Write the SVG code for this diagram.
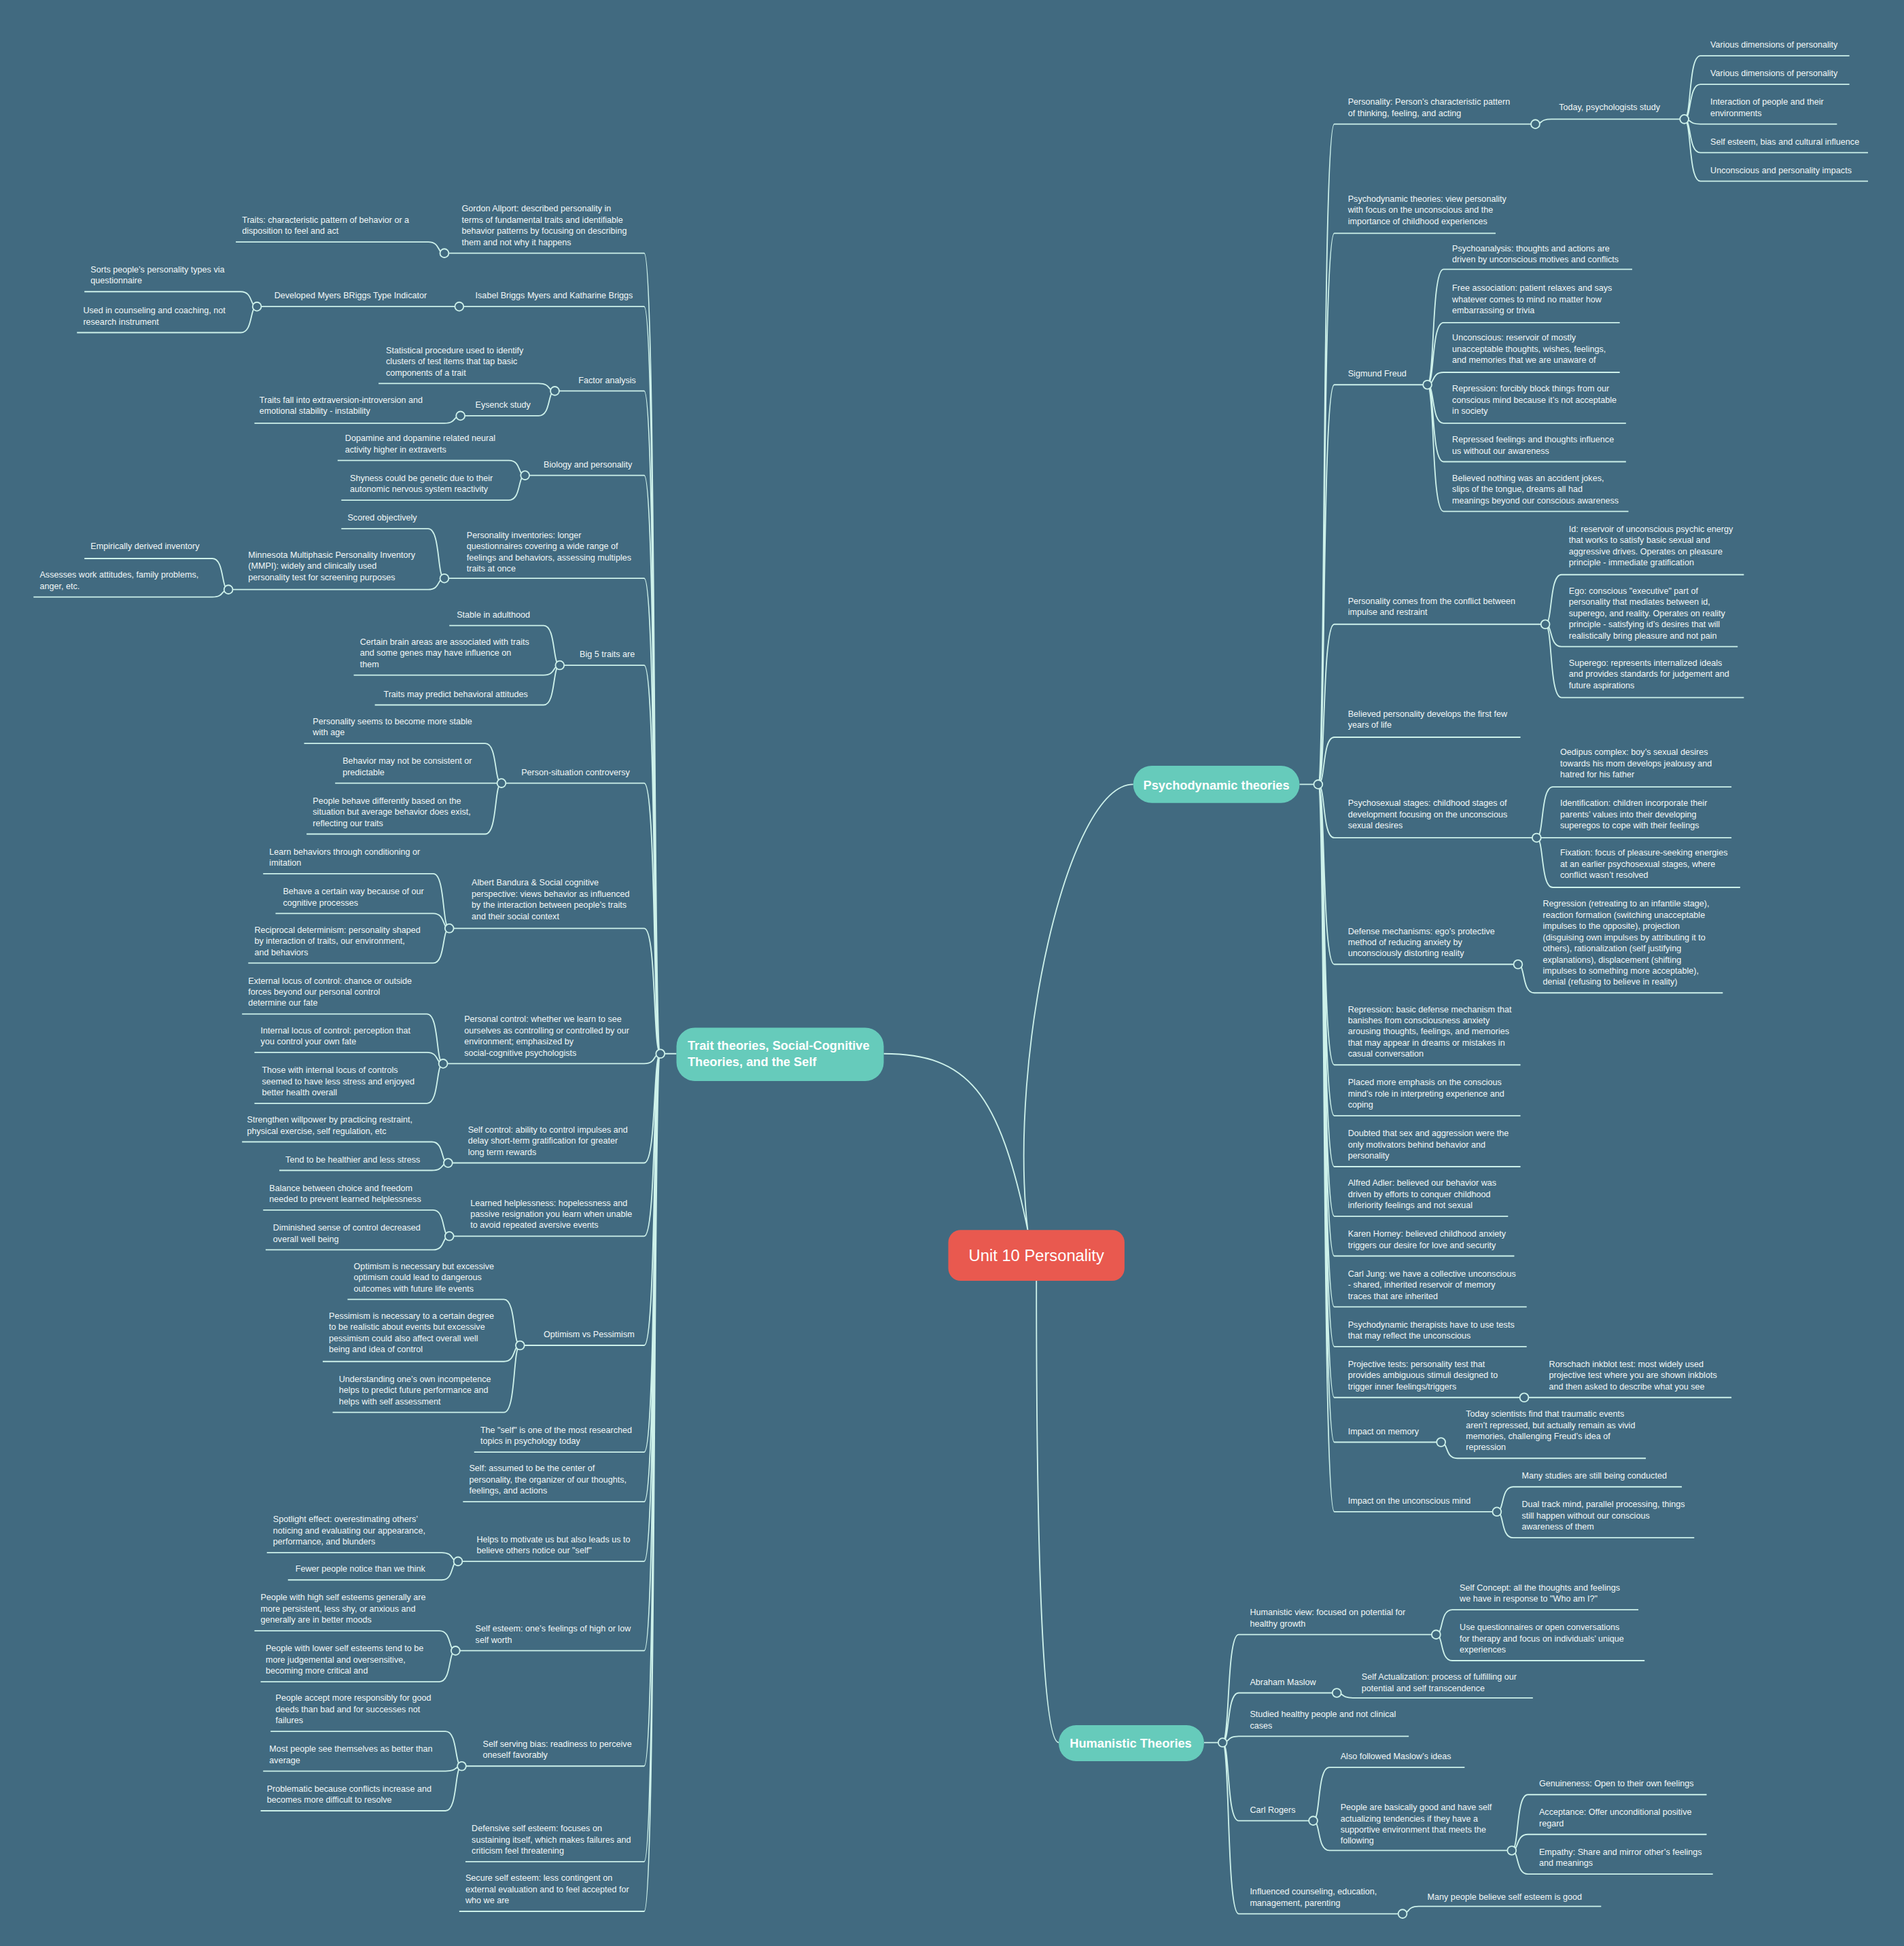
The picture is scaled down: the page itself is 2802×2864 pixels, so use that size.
<svg xmlns="http://www.w3.org/2000/svg" width="2802" height="2864" viewBox="0 0 2802 2864">
<style>
.l{fill:none;stroke:#cdf1ea;stroke-width:1}
.c{fill:#416a80;stroke:#cdf1ea;stroke-width:1}
text{font-family:"Liberation Sans",Arial,sans-serif;font-size:6.9px;fill:#f2f7f7}
.m{font-size:10px;font-weight:bold;fill:#fff}
</style>
<rect width="2802" height="2864" fill="#416a80"/>
<g transform="scale(1.82660)">
<g id="connectors">
<path class="l" d="M828 991C812 850 860 632 913 632M1047 632H1058.5M828 991C805 880 780 849 712 849M545 849H535.5M835 1032C835 1250 840 1404 853 1404M970 1404H981.5"/>
<path class="l" d="M1062 632C1068 632 1065 100 1075 100H1233.5M1237 100C1243 100 1240 96 1250 96H1353.5
M1357 96C1363 96 1360 45 1370 45H1490M1357 96C1363 96 1360 68 1370 68H1490M1357 96C1363 96 1360 100 1370 100H1480M1357 96C1363 96 1360 123 1370 123H1505M1357 96C1363 96 1360 146 1370 146H1505
M1062 632C1068 632 1065 188 1075 188H1205
M1062 632C1068 632 1065 310 1075 310H1146.5
M1150 310C1156 310 1153 217 1163 217H1315M1150 310C1156 310 1153 260 1163 260H1305M1150 310C1156 310 1153 300 1163 300H1305M1150 310C1156 310 1153 341 1163 341H1310M1150 310C1156 310 1153 372 1163 372H1310M1150 310C1156 310 1153 412 1163 412H1312
M1062 632C1068 632 1065 503 1075 503H1241.5
M1245 503C1251 503 1248 463 1258 463H1405M1245 503C1251 503 1248 521 1258 521H1400M1245 503C1251 503 1248 562 1258 562H1405
M1062 632C1068 632 1065 594 1075 594H1225
M1062 632C1068 632 1065 675 1075 675H1234.5
M1238 675C1244 675 1241 634 1251 634H1395M1238 675C1244 675 1241 675 1251 675H1395M1238 675C1244 675 1241 715 1251 715H1402
M1062 632C1068 632 1065 777 1075 777H1219.5M1223 777C1229 777 1226 800 1236 800H1388
M1062 632C1068 632 1065 858 1075 858H1225M1062 632C1068 632 1065 899 1075 899H1225M1062 632C1068 632 1065 940 1075 940H1225M1062 632C1068 632 1065 980 1075 980H1215M1062 632C1068 632 1065 1012 1075 1012H1220M1062 632C1068 632 1065 1053 1075 1053H1230M1062 632C1068 632 1065 1085 1075 1085H1230
M1062 632C1068 632 1065 1126 1075 1126H1224.5M1228 1126C1234 1126 1231 1126 1241 1126H1395
M1062 632C1068 632 1065 1162 1075 1162H1157.5M1161 1162C1167 1162 1164 1175 1174 1175H1326
M1062 632C1068 632 1065 1218 1075 1218H1202.5M1206 1218C1212 1218 1209 1198 1219 1198H1355M1206 1218C1212 1218 1209 1239 1219 1239H1365"/>
<path class="l" d="M985 1404C991 1404 988 1317 998 1317H1153.5M1157 1317C1163 1317 1160 1297 1170 1297H1320M1157 1317C1163 1317 1160 1338 1170 1338H1325
M985 1404C991 1404 988 1364 998 1364H1073.5M1077 1364C1083 1364 1080 1368 1090 1368H1235
M985 1404C991 1404 988 1399 998 1399H1135
M985 1404C991 1404 988 1467 998 1467H1054.5M1058 1467C1064 1467 1061 1424 1071 1424H1180M1058 1467C1064 1467 1061 1491 1071 1491H1214.5
M1218 1491C1224 1491 1221 1446 1231 1446H1375M1218 1491C1224 1491 1221 1478 1231 1478H1375M1218 1491C1224 1491 1221 1510 1231 1510H1380
M985 1404C991 1404 988 1542 998 1542H1126.5M1130 1542C1136 1542 1133 1536 1143 1536H1290"/>
<path class="l" d="M532 849C526 849 529 204 519 204H361.5M358 204C352 204 355 195 345 195H190
M532 849C526 849 529 247 519 247H373.5M370 247C364 247 367 247 357 247H210.5M207 247C201 247 204 235 194 235H68M207 247C201 247 204 268 194 268H62
M532 849C526 849 529 315 519 315H450.5M447 315C441 315 444 309 434 309H305M447 315C441 315 444 335 434 335H374.5M371 335C365 335 368 341 358 341H205
M532 849C526 849 529 383 519 383H426.5M423 383C417 383 420 371 410 371H272M423 383C417 383 420 403 410 403H275
M532 849C526 849 529 466 519 466H361.5M358 466C352 466 355 426 345 426H275M358 466C352 466 355 475 345 475H187.5M184 475C178 475 181 450 171 450H68M184 475C178 475 181 481 171 481H27
M532 849C526 849 529 536 519 536H454.5M451 536C445 536 448 504 438 504H362M451 536C445 536 448 544 438 544H285M451 536C445 536 448 568 438 568H302
M532 849C526 849 529 631 519 631H407.5M404 631C398 631 401 599 391 599H245M404 631C398 631 401 631 391 631H270M404 631C398 631 401 672 391 672H247
M532 849C526 849 529 748 519 748H365.5M362 748C356 748 359 704 349 704H212M362 748C356 748 359 736 349 736H222M362 748C356 748 359 776 349 776H200
M532 849C526 849 529 857 519 857H360.5M357 857C351 857 354 817 344 817H195M357 857C351 857 354 848 344 848H205M357 857C351 857 354 889 344 889H205
M532 849C526 849 529 937 519 937H364.5M361 937C355 937 358 920 348 920H195M361 937C355 937 358 943 348 943H225
M532 849C526 849 529 996 519 996H365.5M362 996C356 996 359 975 349 975H212M362 996C356 996 359 1007 349 1007H214
M532 849C526 849 529 1084 519 1084H422.5M419 1084C413 1084 416 1047 406 1047H280M419 1084C413 1084 416 1097 406 1097H260M419 1084C413 1084 416 1138 406 1138H268
M532 849C526 849 529 1170 519 1170H382M532 849C526 849 529 1210 519 1210H373
M532 849C526 849 529 1258 519 1258H372.5M369 1258C363 1258 366 1251 356 1251H215M369 1258C363 1258 366 1273 356 1273H232
M532 849C526 849 529 1330 519 1330H370.5M367 1330C361 1330 364 1314 354 1314H205M367 1330C361 1330 364 1355 354 1355H210
M532 849C526 849 529 1423 519 1423H375.5M372 1423C366 1423 369 1395 359 1395H218M372 1423C366 1423 369 1427 359 1427H212M372 1423C366 1423 369 1459 359 1459H210
M532 849C526 849 529 1500 519 1500H375M532 849C526 849 529 1540 519 1540H370"/>
</g>
<g id="center"><rect x="764" y="991" width="142" height="41" rx="10" fill="#e9594f"/><text x="835" y="1016" text-anchor="middle" style="font-size:13px;fill:#fff">Unit 10 Personality</text></g>
<g id="psychodynamic"><rect x="913" y="617" width="134" height="30" rx="15" fill="#66cbbb"/><text class="m" x="980" y="636" text-anchor="middle">Psychodynamic theories</text><circle class="c" cx="1062" cy="632" r="3.5"/></g>
<g id="trait"><rect x="545" y="828" width="167" height="43" rx="15" fill="#66cbbb"/><text class="m" x="554" y="846">Trait theories, Social-Cognitive<tspan x="554" dy="13">Theories, and the Self</tspan></text><circle class="c" cx="532" cy="849" r="3.5"/></g>
<g id="humanistic"><rect x="853" y="1390" width="117" height="29" rx="14" fill="#66cbbb"/><text class="m" x="911" y="1408" text-anchor="middle">Humanistic Theories</text><circle class="c" cx="985" cy="1404" r="3.5"/></g>

<g id="p-nodes">
<g id="p1"><text x="1086" y="84.5">Personality: Person’s characteristic pattern<tspan x="1086" dy="9">of thinking, feeling, and acting</tspan></text><circle class="c" cx="1237" cy="100" r="3.5"/></g>
<g id="p1a"><text x="1256" y="88.5">Today, psychologists study</text><circle class="c" cx="1357" cy="96" r="3.5"/></g>
<g id="p1a1"><text x="1378" y="38.5">Various dimensions of personality</text></g>
<g id="p1a2"><text x="1378" y="61.5">Various dimensions of personality</text></g>
<g id="p1a3"><text x="1378" y="84.5">Interaction of people and their<tspan x="1378" dy="9">environments</tspan></text></g>
<g id="p1a4"><text x="1378" y="116.5">Self esteem, bias and cultural influence</text></g>
<g id="p1a5"><text x="1378" y="139.5">Unconscious and personality impacts</text></g>
<g id="p2"><text x="1086" y="162.5">Psychodynamic theories: view personality<tspan x="1086" dy="9">with focus on the unconscious and the</tspan><tspan x="1086" dy="9">importance of childhood experiences</tspan></text></g>
<g id="p3"><text x="1086" y="303.5">Sigmund Freud</text><circle class="c" cx="1150" cy="310" r="3.5"/></g>
<g id="p3a"><text x="1170" y="202.5">Psychoanalysis: thoughts and actions are<tspan x="1170" dy="9">driven by unconscious motives and conflicts</tspan></text></g>
<g id="p3b"><text x="1170" y="234.5">Free association: patient relaxes and says<tspan x="1170" dy="9">whatever comes to mind no matter how</tspan><tspan x="1170" dy="9">embarrassing or trivia</tspan></text></g>
<g id="p3c"><text x="1170" y="274.5">Unconscious: reservoir of mostly<tspan x="1170" dy="9">unacceptable thoughts, wishes, feelings,</tspan><tspan x="1170" dy="9">and memories that we are unaware of</tspan></text></g>
<g id="p3d"><text x="1170" y="315.5">Repression: forcibly block things from our<tspan x="1170" dy="9">conscious mind because it’s not acceptable</tspan><tspan x="1170" dy="9">in society</tspan></text></g>
<g id="p3e"><text x="1170" y="356.5">Repressed feelings and thoughts influence<tspan x="1170" dy="9">us without our awareness</tspan></text></g>
<g id="p3f"><text x="1170" y="387.5">Believed nothing was an accident jokes,<tspan x="1170" dy="9">slips of the tongue, dreams all had</tspan><tspan x="1170" dy="9">meanings beyond our conscious awareness</tspan></text></g>
<g id="p4"><text x="1086" y="486.5">Personality comes from the conflict between<tspan x="1086" dy="9">impulse and restraint</tspan></text><circle class="c" cx="1245" cy="503" r="3.5"/></g>
<g id="p4a"><text x="1264" y="428.5">Id: reservoir of unconscious psychic energy<tspan x="1264" dy="9">that works to satisfy basic sexual and</tspan><tspan x="1264" dy="9">aggressive drives. Operates on pleasure</tspan><tspan x="1264" dy="9">principle - immediate gratification</tspan></text></g>
<g id="p4b"><text x="1264" y="478.5">Ego: conscious "executive" part of<tspan x="1264" dy="9">personality that mediates between id,</tspan><tspan x="1264" dy="9">superego, and reality. Operates on reality</tspan><tspan x="1264" dy="9">principle - satisfying id’s desires that will</tspan><tspan x="1264" dy="9">realistically bring pleasure and not pain</tspan></text></g>
<g id="p4c"><text x="1264" y="536.5">Superego: represents internalized ideals<tspan x="1264" dy="9">and provides standards for judgement and</tspan><tspan x="1264" dy="9">future aspirations</tspan></text></g>
<g id="p5"><text x="1086" y="577.5">Believed personality develops the first few<tspan x="1086" dy="9">years of life</tspan></text></g>
<g id="p6"><text x="1086" y="649.5">Psychosexual stages: childhood stages of<tspan x="1086" dy="9">development focusing on the unconscious</tspan><tspan x="1086" dy="9">sexual desires</tspan></text><circle class="c" cx="1238" cy="675" r="3.5"/></g>
<g id="p6a"><text x="1257" y="608.5">Oedipus complex: boy’s sexual desires<tspan x="1257" dy="9">towards his mom develops jealousy and</tspan><tspan x="1257" dy="9">hatred for his father</tspan></text></g>
<g id="p6b"><text x="1257" y="649.5">Identification: children incorporate their<tspan x="1257" dy="9">parents’ values into their developing</tspan><tspan x="1257" dy="9">superegos to cope with their feelings</tspan></text></g>
<g id="p6c"><text x="1257" y="689.5">Fixation: focus of pleasure-seeking energies<tspan x="1257" dy="9">at an earlier psychosexual stages, where</tspan><tspan x="1257" dy="9">conflict wasn’t resolved</tspan></text></g>
<g id="p7"><text x="1086" y="752.5">Defense mechanisms: ego’s protective<tspan x="1086" dy="9">method of reducing anxiety by</tspan><tspan x="1086" dy="9">unconsciously distorting reality</tspan></text><circle class="c" cx="1223" cy="777" r="3.5"/></g>
<g id="p7a"><text x="1243" y="730.5">Regression (retreating to an infantile stage),<tspan x="1243" dy="9">reaction formation (switching unacceptable</tspan><tspan x="1243" dy="9">impulses to the opposite), projection</tspan><tspan x="1243" dy="9">(disguising own impulses by attributing it to</tspan><tspan x="1243" dy="9">others), rationalization (self justifying</tspan><tspan x="1243" dy="9">explanations), displacement (shifting</tspan><tspan x="1243" dy="9">impulses to something more acceptable),</tspan><tspan x="1243" dy="9">denial (refusing to believe in reality)</tspan></text></g>
<g id="p8"><text x="1086" y="815.5">Repression: basic defense mechanism that<tspan x="1086" dy="9">banishes from consciousness anxiety</tspan><tspan x="1086" dy="9">arousing thoughts, feelings, and memories</tspan><tspan x="1086" dy="9">that may appear in dreams or mistakes in</tspan><tspan x="1086" dy="9">casual conversation</tspan></text></g>
<g id="p9"><text x="1086" y="874.5">Placed more emphasis on the conscious<tspan x="1086" dy="9">mind’s role in interpreting experience and</tspan><tspan x="1086" dy="9">coping</tspan></text></g>
<g id="p10"><text x="1086" y="915.5">Doubted that sex and aggression were the<tspan x="1086" dy="9">only motivators behind behavior and</tspan><tspan x="1086" dy="9">personality</tspan></text></g>
<g id="p11"><text x="1086" y="955.5">Alfred Adler: believed our behavior was<tspan x="1086" dy="9">driven by efforts to conquer childhood</tspan><tspan x="1086" dy="9">inferiority feelings and not sexual</tspan></text></g>
<g id="p12"><text x="1086" y="996.5">Karen Horney: believed childhood anxiety<tspan x="1086" dy="9">triggers our desire for love and security</tspan></text></g>
<g id="p13"><text x="1086" y="1028.5">Carl Jung: we have a collective unconscious<tspan x="1086" dy="9">- shared, inherited reservoir of memory</tspan><tspan x="1086" dy="9">traces that are inherited</tspan></text></g>
<g id="p14"><text x="1086" y="1069.5">Psychodynamic therapists have to use tests<tspan x="1086" dy="9">that may reflect the unconscious</tspan></text></g>
<g id="p15"><text x="1086" y="1101.5">Projective tests: personality test that<tspan x="1086" dy="9">provides ambiguous stimuli designed to</tspan><tspan x="1086" dy="9">trigger inner feelings/triggers</tspan></text><circle class="c" cx="1228" cy="1126" r="3.5"/></g>
<g id="p15a"><text x="1248" y="1101.5">Rorschach inkblot test: most widely used<tspan x="1248" dy="9">projective test where you are shown inkblots</tspan><tspan x="1248" dy="9">and then asked to describe what you see</tspan></text></g>
<g id="p16"><text x="1086" y="1155.5">Impact on memory</text><circle class="c" cx="1161" cy="1162" r="3.5"/></g>
<g id="p16a"><text x="1181" y="1141.5">Today scientists find that traumatic events<tspan x="1181" dy="9">aren’t repressed, but actually remain as vivid</tspan><tspan x="1181" dy="9">memories, challenging Freud’s idea of</tspan><tspan x="1181" dy="9">repression</tspan></text></g>
<g id="p17"><text x="1086" y="1211.5">Impact on the unconscious mind</text><circle class="c" cx="1206" cy="1218" r="3.5"/></g>
<g id="p17a"><text x="1226" y="1191.5">Many studies are still being conducted</text></g>
<g id="p17b"><text x="1226" y="1214.5">Dual track mind, parallel processing, things<tspan x="1226" dy="9">still happen without our conscious</tspan><tspan x="1226" dy="9">awareness of them</tspan></text></g>
</g>

<g id="h-nodes">
<g id="h1"><text x="1007" y="1301.5">Humanistic view: focused on potential for<tspan x="1007" dy="9">healthy growth</tspan></text><circle class="c" cx="1157" cy="1317" r="3.5"/></g>
<g id="h1a"><text x="1176" y="1281.5">Self Concept: all the thoughts and feelings<tspan x="1176" dy="9">we have in response to "Who am I?"</tspan></text></g>
<g id="h1b"><text x="1176" y="1313.5">Use questionnaires or open conversations<tspan x="1176" dy="9">for therapy and focus on individuals’ unique</tspan><tspan x="1176" dy="9">experiences</tspan></text></g>
<g id="h2"><text x="1007" y="1357.5">Abraham Maslow</text><circle class="c" cx="1077" cy="1364" r="3.5"/></g>
<g id="h2a"><text x="1097" y="1353.5">Self Actualization: process of fulfilling our<tspan x="1097" dy="9">potential and self transcendence</tspan></text></g>
<g id="h3"><text x="1007" y="1383.5">Studied healthy people and not clinical<tspan x="1007" dy="9">cases</tspan></text></g>
<g id="h4"><text x="1007" y="1460.5">Carl Rogers</text><circle class="c" cx="1058" cy="1467" r="3.5"/></g>
<g id="h4a"><text x="1080" y="1417.5">Also followed Maslow’s ideas</text></g>
<g id="h4b"><text x="1080" y="1458.5">People are basically good and have self<tspan x="1080" dy="9">actualizing tendencies if they have a</tspan><tspan x="1080" dy="9">supportive environment that meets the</tspan><tspan x="1080" dy="9">following</tspan></text><circle class="c" cx="1218" cy="1491" r="3.5"/></g>
<g id="h4b1"><text x="1240" y="1439.5">Genuineness: Open to their own feelings</text></g>
<g id="h4b2"><text x="1240" y="1462.5">Acceptance: Offer unconditional positive<tspan x="1240" dy="9">regard</tspan></text></g>
<g id="h4b3"><text x="1240" y="1494.5">Empathy: Share and mirror other’s feelings<tspan x="1240" dy="9">and meanings</tspan></text></g>
<g id="h5"><text x="1007" y="1526.5">Influenced counseling, education,<tspan x="1007" dy="9">management, parenting</tspan></text><circle class="c" cx="1130" cy="1542" r="3.5"/></g>
<g id="h5a"><text x="1150" y="1530.5">Many people believe self esteem is good</text></g>
</g>

<g id="t-nodes">
<g id="t1"><text x="372" y="170.5">Gordon Allport: described personality in<tspan x="372" dy="9">terms of fundamental traits and identifiable</tspan><tspan x="372" dy="9">behavior patterns by focusing on describing</tspan><tspan x="372" dy="9">them and not why it happens</tspan></text><circle class="c" cx="358" cy="204" r="3.5"/></g>
<g id="t1a"><text x="195" y="179.5">Traits: characteristic pattern of behavior or a<tspan x="195" dy="9">disposition to feel and act</tspan></text></g>
<g id="t2"><text x="383" y="240.5">Isabel Briggs Myers and Katharine Briggs</text><circle class="c" cx="370" cy="247" r="3.5"/></g>
<g id="t2a"><text x="221" y="240.5">Developed Myers BRiggs Type Indicator</text><circle class="c" cx="207" cy="247" r="3.5"/></g>
<g id="t2a1"><text x="73" y="219.5">Sorts people’s personality types via<tspan x="73" dy="9">questionnaire</tspan></text></g>
<g id="t2a2"><text x="67" y="252.5">Used in counseling and coaching, not<tspan x="67" dy="9">research instrument</tspan></text></g>
<g id="t3"><text x="466" y="308.5">Factor analysis</text><circle class="c" cx="447" cy="315" r="3.5"/></g>
<g id="t3a"><text x="311" y="284.5">Statistical procedure used to identify<tspan x="311" dy="9">clusters of test items that tap basic</tspan><tspan x="311" dy="9">components of a trait</tspan></text></g>
<g id="t3b"><text x="383" y="328.5">Eysenck study</text><circle class="c" cx="371" cy="335" r="3.5"/></g>
<g id="t3b1"><text x="209" y="324.5">Traits fall into extraversion-introversion and<tspan x="209" dy="9">emotional stability - instability</tspan></text></g>
<g id="t4"><text x="438" y="376.5">Biology and personality</text><circle class="c" cx="423" cy="383" r="3.5"/></g>
<g id="t4a"><text x="278" y="355.5">Dopamine and dopamine related neural<tspan x="278" dy="9">activity higher in extraverts</tspan></text></g>
<g id="t4b"><text x="282" y="387.5">Shyness could be genetic due to their<tspan x="282" dy="9">autonomic nervous system reactivity</tspan></text></g>
<g id="t5"><text x="376" y="433.5">Personality inventories: longer<tspan x="376" dy="9">questionnaires covering a wide range of</tspan><tspan x="376" dy="9">feelings and behaviors, assessing multiples</tspan><tspan x="376" dy="9">traits at once</tspan></text><circle class="c" cx="358" cy="466" r="3.5"/></g>
<g id="t5a"><text x="280" y="419.5">Scored objectively</text></g>
<g id="t5b"><text x="200" y="449.5">Minnesota Multiphasic Personality Inventory<tspan x="200" dy="9">(MMPI): widely and clinically used</tspan><tspan x="200" dy="9">personality test for screening purposes</tspan></text><circle class="c" cx="184" cy="475" r="3.5"/></g>
<g id="t5b1"><text x="73" y="442.5">Empirically derived inventory</text></g>
<g id="t5b2"><text x="32" y="465.5">Assesses work attitudes, family problems,<tspan x="32" dy="9">anger, etc.</tspan></text></g>
<g id="t6"><text x="467" y="529.5">Big 5 traits are</text><circle class="c" cx="451" cy="536" r="3.5"/></g>
<g id="t6a"><text x="368" y="497.5">Stable in adulthood</text></g>
<g id="t6b"><text x="290" y="519.5">Certain brain areas are associated with traits<tspan x="290" dy="9">and some genes may have influence on</tspan><tspan x="290" dy="9">them</tspan></text></g>
<g id="t6c"><text x="309" y="561.5">Traits may predict behavioral attitudes</text></g>
<g id="t7"><text x="420" y="624.5">Person-situation controversy</text><circle class="c" cx="404" cy="631" r="3.5"/></g>
<g id="t7a"><text x="252" y="583.5">Personality seems to become more stable<tspan x="252" dy="9">with age</tspan></text></g>
<g id="t7b"><text x="276" y="615.5">Behavior may not be consistent or<tspan x="276" dy="9">predictable</tspan></text></g>
<g id="t7c"><text x="252" y="647.5">People behave differently based on the<tspan x="252" dy="9">situation but average behavior does exist,</tspan><tspan x="252" dy="9">reflecting our traits</tspan></text></g>
<g id="t8"><text x="380" y="713.5">Albert Bandura &amp; Social cognitive<tspan x="380" dy="9">perspective: views behavior as influenced</tspan><tspan x="380" dy="9">by the interaction between people’s traits</tspan><tspan x="380" dy="9">and their social context</tspan></text><circle class="c" cx="362" cy="748" r="3.5"/></g>
<g id="t8a"><text x="217" y="688.5">Learn behaviors through conditioning or<tspan x="217" dy="9">imitation</tspan></text></g>
<g id="t8b"><text x="228" y="720.5">Behave a certain way because of our<tspan x="228" dy="9">cognitive processes</tspan></text></g>
<g id="t8c"><text x="205" y="751.5">Reciprocal determinism: personality shaped<tspan x="205" dy="9">by interaction of traits, our environment,</tspan><tspan x="205" dy="9">and behaviors</tspan></text></g>
<g id="t9"><text x="374" y="823.5">Personal control: whether we learn to see<tspan x="374" dy="9">ourselves as controlling or controlled by our</tspan><tspan x="374" dy="9">environment; emphasized by</tspan><tspan x="374" dy="9">social-cognitive psychologists</tspan></text><circle class="c" cx="357" cy="857" r="3.5"/></g>
<g id="t9a"><text x="200" y="792.5">External locus of control: chance or outside<tspan x="200" dy="9">forces beyond our personal control</tspan><tspan x="200" dy="9">determine our fate</tspan></text></g>
<g id="t9b"><text x="210" y="832.5">Internal locus of control: perception that<tspan x="210" dy="9">you control your own fate</tspan></text></g>
<g id="t9c"><text x="211" y="864.5">Those with internal locus of controls<tspan x="211" dy="9">seemed to have less stress and enjoyed</tspan><tspan x="211" dy="9">better health overall</tspan></text></g>
<g id="t10"><text x="377" y="912.5">Self control: ability to control impulses and<tspan x="377" dy="9">delay short-term gratification for greater</tspan><tspan x="377" dy="9">long term rewards</tspan></text><circle class="c" cx="361" cy="937" r="3.5"/></g>
<g id="t10a"><text x="199" y="904.5">Strengthen willpower by practicing restraint,<tspan x="199" dy="9">physical exercise, self regulation, etc</tspan></text></g>
<g id="t10b"><text x="230" y="936.5">Tend to be healthier and less stress</text></g>
<g id="t11"><text x="379" y="971.5">Learned helplessness: hopelessness and<tspan x="379" dy="9">passive resignation you learn when unable</tspan><tspan x="379" dy="9">to avoid repeated aversive events</tspan></text><circle class="c" cx="362" cy="996" r="3.5"/></g>
<g id="t11a"><text x="217" y="959.5">Balance between choice and freedom<tspan x="217" dy="9">needed to prevent learned helplessness</tspan></text></g>
<g id="t11b"><text x="220" y="991.5">Diminished sense of control decreased<tspan x="220" dy="9">overall well being</tspan></text></g>
<g id="t12"><text x="438" y="1077.5">Optimism vs Pessimism</text><circle class="c" cx="419" cy="1084" r="3.5"/></g>
<g id="t12a"><text x="285" y="1022.5">Optimism is necessary but excessive<tspan x="285" dy="9">optimism could lead to dangerous</tspan><tspan x="285" dy="9">outcomes with future life events</tspan></text></g>
<g id="t12b"><text x="265" y="1062.5">Pessimism is necessary to a certain degree<tspan x="265" dy="9">to be realistic about events but excessive</tspan><tspan x="265" dy="9">pessimism could also affect overall well</tspan><tspan x="265" dy="9">being and idea of control</tspan></text></g>
<g id="t12c"><text x="273" y="1113.5">Understanding one’s own incompetence<tspan x="273" dy="9">helps to predict future performance and</tspan><tspan x="273" dy="9">helps with self assessment</tspan></text></g>
<g id="t13"><text x="387" y="1154.5">The "self" is one of the most researched<tspan x="387" dy="9">topics in psychology today</tspan></text></g>
<g id="t14"><text x="378" y="1185.5">Self: assumed to be the center of<tspan x="378" dy="9">personality, the organizer of our thoughts,</tspan><tspan x="378" dy="9">feelings, and actions</tspan></text></g>
<g id="t15"><text x="384" y="1242.5">Helps to motivate us but also leads us to<tspan x="384" dy="9">believe others notice our "self"</tspan></text><circle class="c" cx="369" cy="1258" r="3.5"/></g>
<g id="t15a"><text x="220" y="1226.5">Spotlight effect: overestimating others’<tspan x="220" dy="9">noticing and evaluating our appearance,</tspan><tspan x="220" dy="9">performance, and blunders</tspan></text></g>
<g id="t15b"><text x="238" y="1266.5">Fewer people notice than we think</text></g>
<g id="t16"><text x="383" y="1314.5">Self esteem: one’s feelings of high or low<tspan x="383" dy="9">self worth</tspan></text><circle class="c" cx="367" cy="1330" r="3.5"/></g>
<g id="t16a"><text x="210" y="1289.5">People with high self esteems generally are<tspan x="210" dy="9">more persistent, less shy, or anxious and</tspan><tspan x="210" dy="9">generally are in better moods</tspan></text></g>
<g id="t16b"><text x="214" y="1330.5">People with lower self esteems tend to be<tspan x="214" dy="9">more judgemental and oversensitive,</tspan><tspan x="214" dy="9">becoming more critical and</tspan></text></g>
<g id="t17"><text x="389" y="1407.5">Self serving bias: readiness to perceive<tspan x="389" dy="9">oneself favorably</tspan></text><circle class="c" cx="372" cy="1423" r="3.5"/></g>
<g id="t17a"><text x="222" y="1370.5">People accept more responsibly for good<tspan x="222" dy="9">deeds than bad and for successes not</tspan><tspan x="222" dy="9">failures</tspan></text></g>
<g id="t17b"><text x="217" y="1411.5">Most people see themselves as better than<tspan x="217" dy="9">average</tspan></text></g>
<g id="t17c"><text x="215" y="1443.5">Problematic because conflicts increase and<tspan x="215" dy="9">becomes more difficult to resolve</tspan></text></g>
<g id="t18"><text x="380" y="1475.5">Defensive self esteem: focuses on<tspan x="380" dy="9">sustaining itself, which makes failures and</tspan><tspan x="380" dy="9">criticism feel threatening</tspan></text></g>
<g id="t19"><text x="375" y="1515.5">Secure self esteem: less contingent on<tspan x="375" dy="9">external evaluation and to feel accepted for</tspan><tspan x="375" dy="9">who we are</tspan></text></g>
</g>
</g>
</svg>
